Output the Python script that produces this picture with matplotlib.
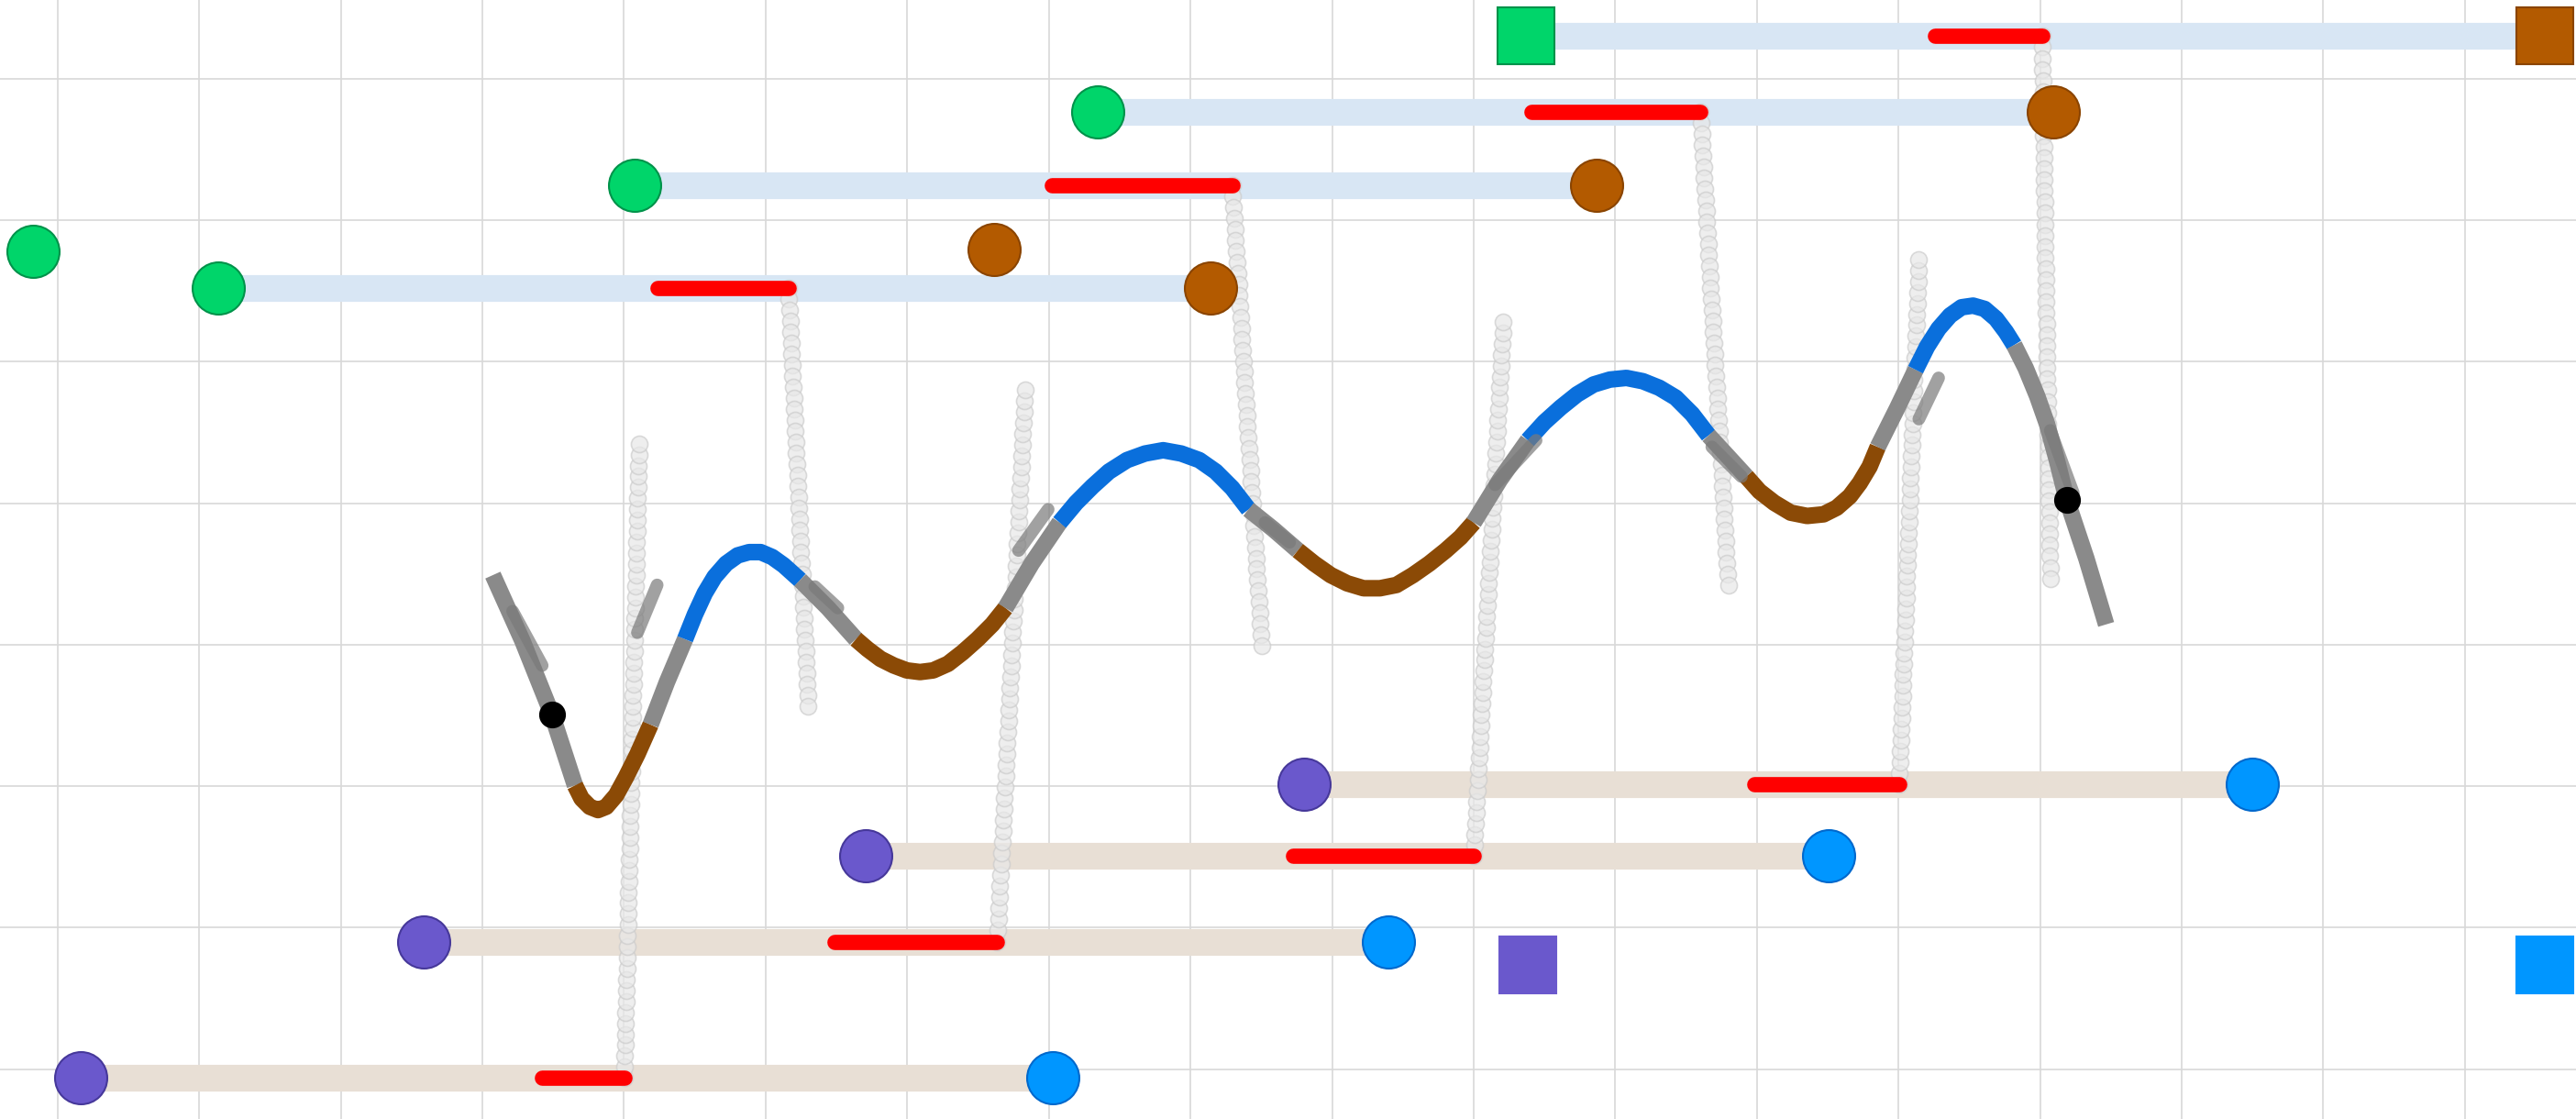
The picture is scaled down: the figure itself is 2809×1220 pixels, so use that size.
import numpy as np
import matplotlib
matplotlib.use("Agg")
import matplotlib.pyplot as plt

# Scene coordinates (picture units, y down)
top_y = [175, 113, 68, 22]
top_start = [133, 386, 668, 929]
top_end = [737, 972, 1250, 1549]
top_red = [(400, 480), (640, 750), (932, 1035), (1178, 1243)]
top_chain_end = [(492, 430), (768, 393), (1052, 356), (1248, 352)]
top_start_marker = ['o', 'o', 'o', 's']
top_end_marker = ['o', 'o', 'o', 's']
extra_green = (20, 153)
extra_brown = (605, 152)

bot_y = [656, 573, 521, 477]
bot_start = [49, 258, 527, 794]
bot_end = [641, 845, 1113, 1371]
bot_red = [(330, 380), (508, 607), (787, 897), (1068, 1156)]
bot_chain_end = [(389, 270), (624, 237), (915, 196), (1168, 158)]
sq_purple = (930, 587)
sq_blue = (1549, 587)

curve_segments = [
    ('grey', [(300, 350), (318, 390), (336, 435), (350, 478)]),
    ('brown', [(350, 478), (354, 486), (359, 491), (364, 493), (369, 491), (375, 484), (381, 473), (388, 459), (396, 441)]),
    ('grey', [(396, 441), (406, 415), (417, 389)]),
    ('blue', [(417, 389), (423, 374), (429, 361), (435, 351), (442, 343), (449, 338), (456, 336), (463, 336), (470, 339), (477, 344), (487, 353)]),
    ('grey', [(487, 353), (504, 370), (521, 389)]),
    ('brown', [(521, 389), (528, 395), (536, 401), (544, 405), (552, 408), (560, 409), (568, 408), (577, 404), (586, 397), (595, 389), (604, 380), (612, 370)]),
    ('grey', [(612, 370), (628, 343), (645, 318)]),
    ('blue', [(645, 318), (655, 306), (665, 296), (675, 287), (686, 280), (697, 276), (708, 274), (719, 276), (730, 280), (740, 287), (750, 297), (760, 310)]),
    ('grey', [(760, 310), (775, 322), (790, 335)]),
    ('brown', [(790, 335), (800, 343), (810, 350), (820, 355), (830, 358), (840, 358), (850, 356), (860, 350), (870, 343), (880, 335), (889, 327), (897, 318)]),
    ('grey', [(897, 318), (913, 292), (930, 268)]),
    ('blue', [(930, 268), (940, 257), (950, 248), (960, 240), (970, 234), (980, 231), (990, 230), (1000, 232), (1010, 236), (1020, 242), (1030, 252), (1040, 265)]),
    ('grey', [(1040, 265), (1052, 278), (1063, 290)]),
    ('brown', [(1063, 290), (1071, 299), (1080, 306), (1090, 312), (1100, 314), (1110, 313), (1118, 309), (1126, 302), (1132, 294), (1138, 284), (1143, 272)]),
    ('grey', [(1143, 272), (1155, 248), (1166, 225)]),
    ('blue', [(1166, 225), (1173, 211), (1180, 200), (1187, 192), (1194, 187), (1201, 186), (1208, 188), (1215, 194), (1221, 202), (1226, 210)]),
    ('grey', [(1226, 210), (1233, 224), (1240, 241), (1246, 258), (1252, 280), (1258, 304), (1264, 322), (1270, 340), (1276, 360), (1282, 380)]),
]
sticks = [[(312, 372), (330, 405)], [(388, 385), (400, 356)], [(620, 335), (638, 310)],
          [(496, 357), (510, 370)], [(770, 318), (785, 330)], [(910, 295), (935, 268)],
          [(1042, 272), (1060, 290)], [(1168, 255), (1180, 230)], [(1248, 262), (1262, 300)]]
black_dots = [(336, 435), (1258, 304)]

colors = {'grey': '#8a8a8a', 'brown': '#8b4a06', 'blue': '#0a6fdc'}

W, H = 1568, 681
fig = plt.figure(figsize=(28.09, 12.2), dpi=100)
ax = fig.add_axes([0, 0, 1, 1])
ax.set_xlim(0, W)
ax.set_ylim(H, 0)
ax.axis('off')

for gx in np.arange(35, W, 86.2):
    ax.axvline(gx, color='#d8d8d8', lw=1.2, zorder=0)
for gy in np.arange(48, H, 86.1):
    ax.axhline(gy, color='#d8d8d8', lw=1.2, zorder=0)

def chain(p0, p1, n):
    xs = np.linspace(p0[0], p1[0], n)
    ys = np.linspace(p0[1], p1[1], n)
    ax.plot(xs, ys, 'o', ms=13, mfc='#e8e8e8', mec='#cccccc', mew=1.2, alpha=0.7, zorder=2, ls='none')

def ball(p, c, ec, m='o'):
    ms = 41 if m == 'o' else 45
    ax.plot([p[0]], [p[1]], m, ms=ms, mfc=c, mec=ec, mew=1.5, zorder=6)

for i in range(4):
    y = top_y[i]
    ax.plot([top_start[i], top_end[i]], [y, y], color='#d8e6f4', lw=21, solid_capstyle='butt', zorder=1)
    ax.plot(list(top_red[i]), [y, y], color='#ff0000', lw=12, solid_capstyle='round', zorder=4)
    cx, cy = top_chain_end[i]
    chain((top_red[i][1], y), (cx, cy), int(abs(cy - y) / 6.5))
    ball((top_start[i], y), '#00d56a', '#00924a', top_start_marker[i])
    ball((top_end[i], y), '#b35a00', '#8a4400', top_end_marker[i])

for i in range(4):
    y = bot_y[i]
    ax.plot([bot_start[i], bot_end[i]], [y, y], color='#e8dfd5', lw=21, solid_capstyle='butt', zorder=1)
    ax.plot(list(bot_red[i]), [y, y], color='#ff0000', lw=12, solid_capstyle='round', zorder=4)
    cx, cy = bot_chain_end[i]
    chain((bot_red[i][1], y), (cx, cy), int(abs(cy - y) / 6.5))
    ball((bot_start[i], y), '#6a58cc', '#46389a')
    ball((bot_end[i], y), '#0096ff', '#0068cc')

ball(extra_green, '#00d56a', '#00924a')
ball(extra_brown, '#b35a00', '#8a4400')
ball(sq_purple, '#6a58cc', '#6a58cc', 's')
ball(sq_blue, '#0096ff', '#0096ff', 's')

for col, pts in curve_segments:
    xs, ys = zip(*pts)
    ax.plot(xs, ys, color=colors[col], lw=13, solid_capstyle='butt', solid_joinstyle='round', zorder=3)
for s in sticks:
    xs, ys = zip(*s)
    ax.plot(xs, ys, color='#7a7a7a', lw=10, alpha=0.7, solid_capstyle='round', zorder=3)
for p in black_dots:
    ax.plot([p[0]], [p[1]], 'o', ms=20, color='black', zorder=7)

fig.savefig('out.png', dpi=100)
